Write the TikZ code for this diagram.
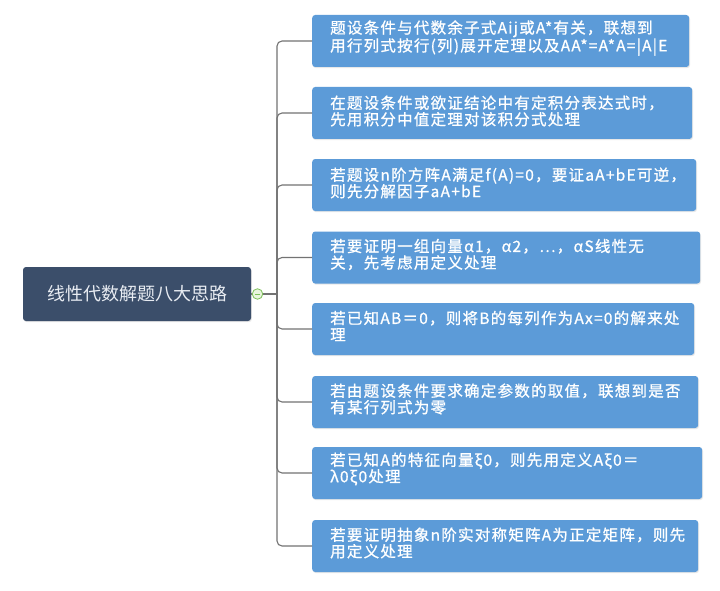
\documentclass[tikz,border=0pt]{standalone}
\usepackage{fontspec}
\newfontfamily\cjk[LetterSpace=8,FakeBold=0.9]{Noto Sans CJK SC}
\newfontfamily\cjkroot{Noto Sans CJK SC}
\usetikzlibrary{shadows}
\definecolor{rootfill}{HTML}{3B4E6A}
\definecolor{roottext}{HTML}{E8ECF2}
\definecolor{boxfill}{HTML}{5C9BD8}
\definecolor{linegray}{HTML}{737373}
\definecolor{knobline}{HTML}{7DC05A}
\definecolor{knobfill}{HTML}{E8F5DD}
\begin{document}
\begin{tikzpicture}[x=1pt,y=-1pt,
  conn/.style={draw=linegray, line width=1.1pt},
  branch/.style={conn, rounded corners=5pt},
  boxnode/.style={rectangle, rounded corners=3pt, fill=boxfill, minimum height=52pt, anchor=west, inner sep=0pt,
    drop shadow={opacity=0.18, shadow xshift=0.8pt, shadow yshift=-1.2pt}},
  boxtext/.style={anchor=west, align=left, inner sep=0pt, text=white, font=\cjk\fontsize{15.5}{16.5}\selectfont},
  rootnode/.style={rectangle, rounded corners=3pt, fill=rootfill, minimum width=228pt, minimum height=54pt, inner sep=0pt,
    text=roottext, font=\cjkroot\fontsize{18}{20}\selectfont,
    drop shadow={opacity=0.18, shadow xshift=0.8pt, shadow yshift=-1.2pt}},
  knob/.style={circle, draw=knobline, fill=knobfill, line width=0.8pt, minimum size=10.5pt, inner sep=0pt}
]
\useasboundingbox (0,0) rectangle (720,591);
\fill[white] (0,0) rectangle (720,591);

% root
\node[rootnode] (root) at (137,294) {线性代数解题八大思路};
\node[knob] (knob) at (257.5,294) {};
\draw[knobline, line width=0.8pt] ([xshift=-2.8pt]knob.center) -- ([xshift=2.8pt]knob.center);
\coordinate (hub) at (277,294);

% boxes
\node[boxnode, minimum width=377pt] (b1) at (312,41) {};
\node[boxnode, minimum width=380pt] (b2) at (312,113) {};
\node[boxnode, minimum width=384pt] (b3) at (312,185) {};
\node[boxnode, minimum width=388pt] (b4) at (312,257.5) {};
\node[boxnode, minimum width=382pt] (b5) at (312,329) {};
\node[boxnode, minimum width=386pt] (b6) at (312,402) {};
\node[boxnode, minimum width=390pt] (b7) at (312,473) {};
\node[boxnode, minimum width=386pt] (b8) at (312,546) {};

% texts
\node[boxtext] (t1) at ([xshift=18pt,yshift=3pt]b1.west) {题设条件与代数余子式Aij或A*有关，联想到\\用行列式按行(列)展开定理以及AA*=A*A=|A|E};
\node[boxtext] (t2) at ([xshift=18pt,yshift=2pt]b2.west) {在题设条件或欲证结论中有定积分表达式时，\\先用积分中值定理对该积分式处理};
\node[boxtext] (t3) at ([xshift=18pt,yshift=2pt]b3.west) {若题设n阶方阵A满足f(A)=0，要证aA+bE可逆，\\则先分解因子aA+bE};
\node[boxtext] (t4) at ([xshift=18pt,yshift=3pt]b4.west) {若要证明一组向量α1，α2，…，αS线性无\\关，先考虑用定义处理};
\node[boxtext] (t5) at ([xshift=18pt,yshift=3pt]b5.west) {若已知AB＝0，则将B的每列作为Ax=0的解来处\\理};
\node[boxtext] (t6) at ([xshift=18pt,yshift=3pt]b6.west) {若由题设条件要求确定参数的取值，联想到是否\\有某行列式为零};
\node[boxtext] (t7) at ([xshift=18pt,yshift=4pt]b7.west) {若已知A的特征向量ξ0，则先用定义Aξ0＝\\λ0ξ0处理};
\node[boxtext] (t8) at ([xshift=18pt,yshift=3pt]b8.west) {若要证明抽象n阶实对称矩阵A为正定矩阵，则先\\用定义处理};

% connectors
\draw[conn] (root.east) -- (knob.west);
\draw[conn] (knob.east) -- (hub);
\foreach \k in {1,...,8} \draw[branch] (hub) |- (b\k.west);
\end{tikzpicture}
\end{document}
